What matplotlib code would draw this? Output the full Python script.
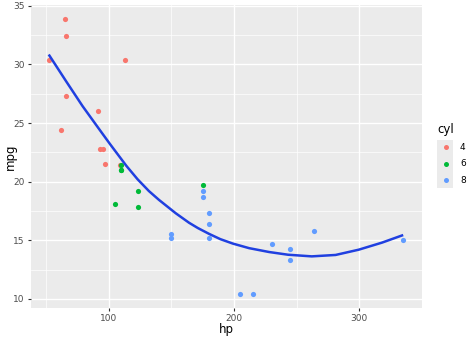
import matplotlib
matplotlib.use('Agg')
import matplotlib.pyplot as plt
import numpy as np

# mtcars: hp, mpg, cyl
hp = [110, 110, 93, 110, 175, 105, 245, 62, 95, 123, 123, 180, 180, 180, 205, 215,
      230, 66, 52, 65, 97, 150, 150, 245, 175, 66, 91, 113, 264, 175, 335, 109]
mpg = [21.0, 21.0, 22.8, 21.4, 18.7, 18.1, 14.3, 24.4, 22.8, 19.2, 17.8, 16.4, 17.3, 15.2, 10.4, 10.4,
       14.7, 32.4, 30.4, 33.9, 21.5, 15.5, 15.2, 13.3, 19.2, 27.3, 26.0, 30.4, 15.8, 19.7, 15.0, 21.4]
cyl = [6, 6, 4, 6, 8, 6, 8, 4, 4, 6, 6, 8, 8, 8, 8, 8,
       8, 4, 4, 4, 4, 8, 8, 8, 8, 4, 4, 4, 8, 6, 8, 4]

# smooth curve
curve_hp = [52, 66, 79, 92.5, 101, 114, 123, 132, 140, 153.5, 164, 171, 180, 189, 199,
            212, 228, 243, 262, 281, 299.5, 318, 335]
curve_mpg = [30.85, 28.55, 26.45, 24.45, 23.2, 21.35, 20.2, 19.2, 18.45, 17.3, 16.5, 16.05, 15.55, 15.1, 14.72,
             14.33, 14.0, 13.77, 13.63, 13.75, 14.2, 14.8, 15.45]

cyl_levels = [4, 6, 8]
cyl_colors = ['#F8766D', '#00BA38', '#619CFF']

W, H = 474, 338
fig = plt.figure(figsize=(W / 100, H / 100), dpi=100)
ax = fig.add_axes([31 / W, 30 / H, (422 - 31) / W, (333 - 30) / H])

ax.set_facecolor('#EBEBEB')
for s in ax.spines.values():
    s.set_visible(False)

hp_arr = np.array(hp)
mpg_arr = np.array(mpg)
cyl_arr = np.array(cyl)
for lev, col in zip(cyl_levels, cyl_colors):
    m = cyl_arr == lev
    ax.scatter(hp_arr[m], mpg_arr[m], s=14, color=col, linewidths=0, zorder=3, label=str(lev))

ax.plot(curve_hp, curve_mpg, color='#2040E0', linewidth=1.8, zorder=4,
        solid_joinstyle='round', solid_capstyle='butt')

xr = max(hp) - min(hp)
yr = max(mpg) - min(mpg)
ax.set_xlim(min(hp) - 0.05 * xr, max(hp) + 0.05 * xr)
ax.set_ylim(min(mpg) - 0.05 * yr, max(mpg) + 0.05 * yr)

ax.set_xticks([100, 200, 300])
ax.set_xticks([50, 150, 250, 350], minor=True)
ax.set_yticks([10, 15, 20, 25, 30, 35])
ax.set_yticks([12.5, 17.5, 22.5, 27.5, 32.5], minor=True)
ax.grid(which='major', color='white', linewidth=1.0)
ax.grid(which='minor', color='white', linewidth=0.5)
ax.set_axisbelow(True)
ax.tick_params(which='major', length=2.5, width=0.8, color='#333333',
               labelsize=6.5, labelcolor='#4D4D4D', pad=2)
ax.tick_params(which='minor', length=0)

ax.set_xlabel('hp', fontsize=8.5, va='center', ha='center')
ax.set_ylabel('mpg', fontsize=8.5, va='center', ha='center')
ax.xaxis.set_label_coords(0.5, (308 - 329) / 303)
ax.yaxis.set_label_coords((10 - 31) / 391, 0.5)

# legend
fig.text(437 / W, 1 - 130 / H, 'cyl', fontsize=8.5, va='center', ha='left')
fig.patches.append(plt.Rectangle((437 / W, 1 - 188 / H), 16 / W, 48 / H,
                                 transform=fig.transFigure, facecolor='#EBEBEB',
                                 edgecolor='none'))
for i, (lev, col) in enumerate(zip(cyl_levels, cyl_colors)):
    yk = 1 - (147.5 + 16.3 * i) / H
    fig.lines.append(plt.Line2D([445.5 / W], [yk], marker='o', markersize=3.6,
                                color=col, markeredgewidth=0, transform=fig.transFigure))
    fig.text(460 / W, yk, str(lev), fontsize=6.5, va='center', ha='left')

fig.savefig('out.png', dpi=100)
